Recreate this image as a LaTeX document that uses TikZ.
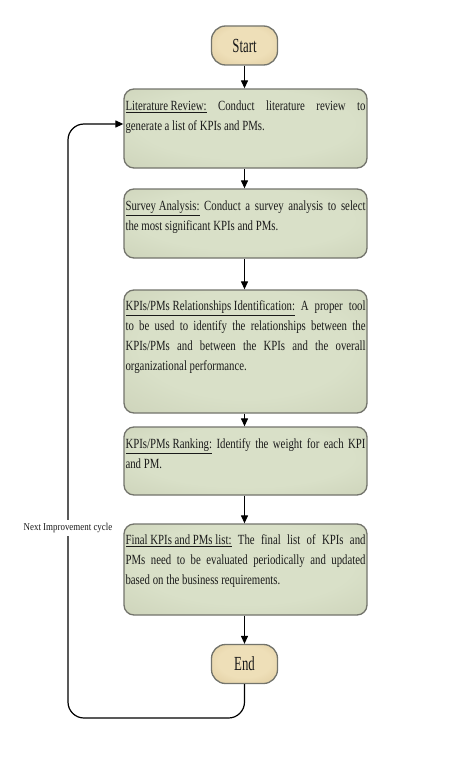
\documentclass[tikz,border=0pt]{standalone}
\usepackage{fontspec}
\setmainfont{Liberation Serif}
\newfontfamily\boxfont[FakeStretch=0.77]{Liberation Serif}
\newfontfamily\termfont[FakeStretch=0.64]{Liberation Serif}
\newfontfamily\cyclefont[FakeStretch=0.85]{Liberation Serif}
\usetikzlibrary{arrows.meta}
\definecolor{boxin}{HTML}{D9E0C8}
\definecolor{boxmid}{HTML}{C9CFB5}
\definecolor{boxout}{HTML}{989C88}
\definecolor{termin}{HTML}{EEDFB8}
\definecolor{termmid}{HTML}{DCC79A}
\definecolor{termout}{HTML}{B39C6E}
\definecolor{edgegray}{HTML}{73746C}
\definecolor{txt}{HTML}{1A1A1A}
\pgfdeclareradialshading{boxshade}{\pgfpoint{0bp}{4bp}}{color(0bp)=(boxin); color(22bp)=(boxin); color(44bp)=(boxmid); color(56bp)=(boxout); color(72bp)=(boxout)}
\pgfdeclareradialshading{termshade}{\pgfpoint{0bp}{4bp}}{color(0bp)=(termin); color(20bp)=(termin); color(42bp)=(termmid); color(56bp)=(termout); color(72bp)=(termout)}
\newcommand{\ulhead}[1]{\underline{#1}}
\tikzset{
  stepbox/.style={rectangle, rounded corners=10pt, draw=edgegray, line width=1.3pt,
    shading=boxshade, inner sep=0pt, minimum width=243pt},
  termbox/.style={rectangle, rounded corners=14pt, draw=edgegray, line width=1.3pt,
    shading=termshade, inner sep=0pt, minimum width=66pt, minimum height=39pt,
    font=\termfont\fontsize{20}{22}\selectfont, text=txt},
  steptext/.style={anchor=north west, inner sep=0pt, text width=240pt, align=justify,
    font=\boxfont\fontsize{14}{20}\selectfont, text=txt},
  flow/.style={draw=black, line width=1.2pt, -{Triangle[length=8pt,width=7pt]}},
}
\begin{document}
\begin{tikzpicture}[x=1pt,y=-1pt]
\useasboundingbox (0,0) rectangle (474,768);
\fill[white] (0,0) rectangle (474,768);
% terminals
\node[termbox] (start) at (244.5,45.5) {Start};
\node[termbox] (end) at (244.5,664) {End};
% step boxes
\node[stepbox, minimum height=79pt] (L1) at (245.5,128.5) {};
\node[stepbox, minimum height=69pt] (L2) at (245.5,223.5) {};
\node[stepbox, minimum height=123pt] (L3) at (245.5,351.5) {};
\node[stepbox, minimum height=68pt] (L4) at (245.5,461) {};
\node[stepbox, minimum height=91pt] (L5) at (245.5,569.5) {};
% texts
\node[steptext] (T1) at ([xshift=2pt,yshift=-2pt]L1.north west) {\rule{0pt}{20pt}\ulhead{Literature Review:} Conduct literature review to\linebreak generate a list of KPIs and PMs.};
\node[steptext] (T2) at ([xshift=2pt,yshift=-2pt]L2.north west) {\rule{0pt}{20pt}\ulhead{Survey Analysis:} Conduct a survey analysis to select\linebreak the most significant KPIs and PMs.};
\node[steptext] (T3) at ([xshift=2pt,yshift=-1pt]L3.north west) {\rule{0pt}{20pt}\ulhead{KPIs/PMs Relationships Identification:} A proper tool\linebreak to be used to identify the relationships between the\linebreak KPIs/PMs and between the KPIs and the overall\linebreak organizational performance.};
\node[steptext] (T4) at ([xshift=2pt,yshift=-2pt]L4.north west) {\rule{0pt}{20pt}\ulhead{KPIs/PMs Ranking:} Identify the weight for each KPI\linebreak and PM.};
\node[steptext] (T5) at ([xshift=2pt,yshift=-1pt]L5.north west) {\rule{0pt}{20pt}\ulhead{Final KPIs and PMs list:} The final list of KPIs and\linebreak PMs need to be evaluated periodically and updated\linebreak based on the business requirements.};
% connectors
\draw[flow] (start.south) -- (start.south |- L1.north);
\draw[flow] (start.south |- L1.south) -- (start.south |- L2.north);
\draw[flow] (start.south |- L2.south) -- (start.south |- L3.north);
\draw[flow] (start.south |- L3.south) -- (start.south |- L4.north);
\draw[flow] (start.south |- L4.south) -- (start.south |- L5.north);
\draw[flow] (start.south |- L5.south) -- (end.north);
% improvement loop
\coordinate (loopbl) at (68,718);
\coordinate (lin) at ([yshift=4.5pt]L1.west);
\draw[flow, rounded corners=16pt] (end.south) |- (loopbl) |- (lin);
\node[fill=white, inner xsep=1pt, inner ysep=3pt, font=\cyclefont\fontsize{10.5}{12}\selectfont, text=txt] (cyc) at (68,528) {Next Improvement cycle};
\end{tikzpicture}
\end{document}
